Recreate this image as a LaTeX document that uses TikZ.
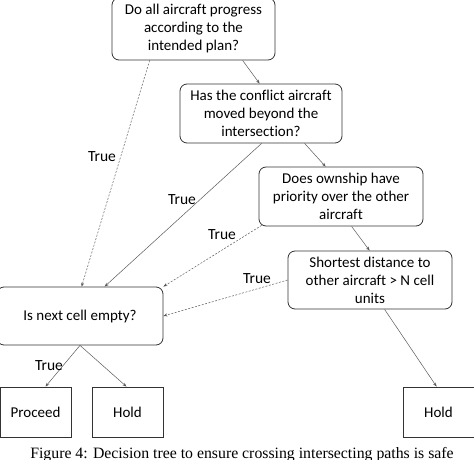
\documentclass[tikz,border=0pt]{standalone}
\usepackage{fontspec}
\setmainfont[Ligatures=NoCommon]{Carlito}
\newfontfamily\capfont{Liberation Serif}
\usetikzlibrary{arrows.meta,calc}
\begin{document}
\begin{tikzpicture}[x=1pt,y=-1pt,
  qbox/.style={draw=black!80,line width=0.8pt,rounded corners=7pt,inner sep=0pt,align=center,
    font=\fontsize{15}{18}\selectfont,minimum height=59pt},
  abox/.style={draw=black!80,line width=0.8pt,inner sep=0pt,align=center,
    font=\fontsize{15}{18}\selectfont,minimum width=71pt,minimum height=50pt},
  conn/.style={draw=black!65,line width=0.5pt,-{Stealth[length=4pt,width=3pt]}},
  dconn/.style={conn,dash pattern=on 2pt off 1.5pt},
  lab/.style={font=\fontsize{15.5}{16}\selectfont,inner sep=0pt}]
\useasboundingbox (0,0) rectangle (474,460);
\clip (0,0) rectangle (474,460);
\node[qbox,minimum width=163pt,minimum height=62pt] (n1) at (193.5,29) {Do all aircraft progress\\according to the\\intended plan?};
\node[qbox,minimum width=162pt] (n2) at (261,113.5) {Has the conflict aircraft\\moved beyond the\\intersection?};
\node[qbox,minimum width=164pt] (n3) at (341,196.5) {Does ownship have\\priority over the other\\aircraft};
\node[qbox,minimum width=164pt,minimum height=58pt] (n4) at (370,280) {Shortest distance to\\other aircraft > N cell\\units};
\node[qbox,minimum width=166pt,minimum height=58pt] (n5) at (80,316) {Is next cell empty?};
\node[abox] (p1) at (35.5,412) {Proceed};
\node[abox] (h1) at (127.5,412) {Hold};
\node[abox] (h2) at (438.5,412) {Hold};
\draw[conn] ([xshift=131pt]n1.south west) -- ([xshift=80pt]n2.north west);
\draw[dconn] ([xshift=38pt]n1.south west) -- ([xshift=85pt]n5.north west);
\draw[conn] ([xshift=82pt]n2.south west) -- ([xshift=108pt]n5.north west);
\draw[conn] ([xshift=125pt]n2.south west) -- ([xshift=67pt]n3.north west);
\draw[dconn] ([xshift=3pt,yshift=1pt]n3.south west) -- ([xshift=0pt]n5.north east);
\draw[conn] ([xshift=93pt]n3.south west) -- ([xshift=82pt]n4.north west);
\draw[dconn] (n4.west) -- (n5.east);
\draw[conn] (n5.south) -- ([xshift=10pt]p1.north);
\draw[conn] (n5.south) -- ([xshift=-1pt]h1.north);
\draw[conn] ([xshift=97pt]n4.south west) -- ([xshift=34pt]h2.north west);
\node[lab] (t1) at (102,157) {True};
\node[lab] (t2) at (182,200) {True};
\node[lab] (t3) at (222,235) {True};
\node[lab] (t4) at (257,279) {True};
\node[lab] (t5) at (49,366) {True};
\node[font=\capfont\fontsize{15.8}{18}\selectfont,anchor=base,inner sep=0pt] (cap) at (242,458) {Figure 4: Decision tree to ensure crossing intersecting paths is safe};
\end{tikzpicture}
\end{document}
